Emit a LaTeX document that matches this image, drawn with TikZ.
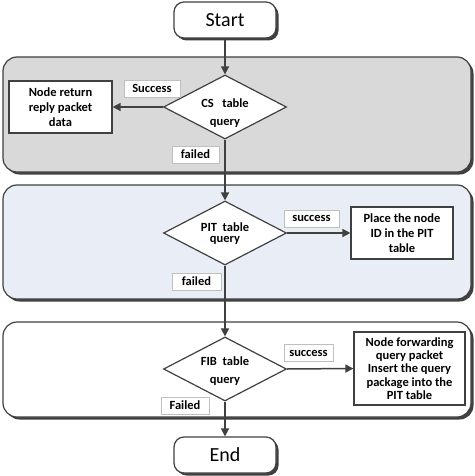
\documentclass[tikz,border=0pt]{standalone}
\usepackage{fontspec}
\setmainfont{Carlito}
\usetikzlibrary{shapes.geometric,shadows,arrows.meta}
\definecolor{linec}{HTML}{404040}
\definecolor{panelgray}{HTML}{D9D9D9}
\definecolor{panelblue}{HTML}{E9EEF6}
\definecolor{lblborder}{HTML}{BFBFBF}
\newcommand{\dtext}[2]{\raisebox{#1}[0pt][0pt]{\begin{tabular}{@{}c@{}}#2\end{tabular}}}
\begin{document}
\begin{tikzpicture}[x=1pt,y=-1pt,
  shadowed/.style={drop shadow={shadow xshift=2.5pt,shadow yshift=-2.5pt,fill=black!75,opacity=1}},
  panel/.style={draw=linec, line width=1.2pt, rounded corners=14pt, shadowed, minimum width=468pt, inner sep=0pt},
  term/.style={draw=linec, line width=1.2pt, rounded corners=10pt, fill=white, minimum width=102pt, minimum height=36pt, inner sep=0pt, font=\fontsize{20}{22}\selectfont, shadowed},
  dec/.style={diamond, draw=linec, line width=1.2pt, fill=white, minimum width=123pt, minimum height=64pt, inner sep=0pt, align=center, font=\bfseries\fontsize{12.5}{14}\selectfont},
  proc/.style={draw=linec, line width=1.2pt, fill=white, inner sep=0pt, align=center, font=\bfseries\fontsize{12.5}{15}\selectfont},
  lbl/.style={draw=lblborder, fill=white, line width=0.8pt, inner sep=0pt, minimum height=17pt, font=\bfseries\fontsize{12.5}{14}\selectfont},
  arr/.style={draw=linec, line width=1.5pt, -{Triangle[length=8pt,width=8pt]}}
]
\useasboundingbox (0,0) rectangle (474,476);
% panels
\node[panel, fill=panelgray, minimum height=115pt] (p1) at (237,114.5) {};
\node[panel, fill=panelblue, minimum height=114pt] (p2) at (237,242) {};
\node[panel, fill=white, minimum height=95pt] (p3) at (237,369.5) {};
% terminals
\node[term] (start) at (225,20) {Start};
\node[term] (end) at (225,455) {End};
% decisions
\node[dec] (cs) at (225,107) {\dtext{-10pt}{CS\ \ \ table\\[4pt]query}};
\node[dec] (pit) at (225,233) {\dtext{-4.5pt}{PIT\ \ table\\[-3pt]query}};
\node[dec] (fib) at (225,369) {\dtext{-6pt}{FIB\ \ table\\[4pt]query}};
% processes
\node[proc, minimum width=103pt, minimum height=52pt] (ret) at (60.5,107) {Node return\\reply packet\\data};
\node[proc, minimum width=102pt, minimum height=52pt] (place) at (402,233) {Place the node\\ID in the PIT\\table};
\node[proc, minimum width=111pt, minimum height=73pt, font=\bfseries\fontsize{12.5}{13.3}\selectfont] (fwd) at (409.5,368.5) {Node forwarding\\query packet\\Insert the query\\package into the\\PIT table};
% labels
\node[lbl, minimum width=56pt] (l1) at (152,88.5) {Success};
\node[lbl, minimum width=47pt] (l2) at (195.5,154.5) {failed};
\node[lbl, minimum width=55pt] (l3) at (311.5,218.5) {success};
\node[lbl, minimum width=49pt] (l4) at (196.5,281.5) {failed};
\node[lbl, minimum width=49pt] (l5) at (308.5,353) {success};
\node[lbl, minimum width=48pt] (l6) at (185,405.5) {Failed};
% connectors
\draw[arr] (start) -- (cs.north);
\draw[arr] (cs.west) -- (ret.east);
\draw[arr] (cs.south) -- (pit.north);
\draw[arr] (pit.east) -- (place.west);
\draw[arr] (pit.south) -- (fib.north);
\draw[arr] (fib.east) -- (fwd.west);
\draw[arr] (fib.south) -- (end.north);
\end{tikzpicture}
\end{document}
